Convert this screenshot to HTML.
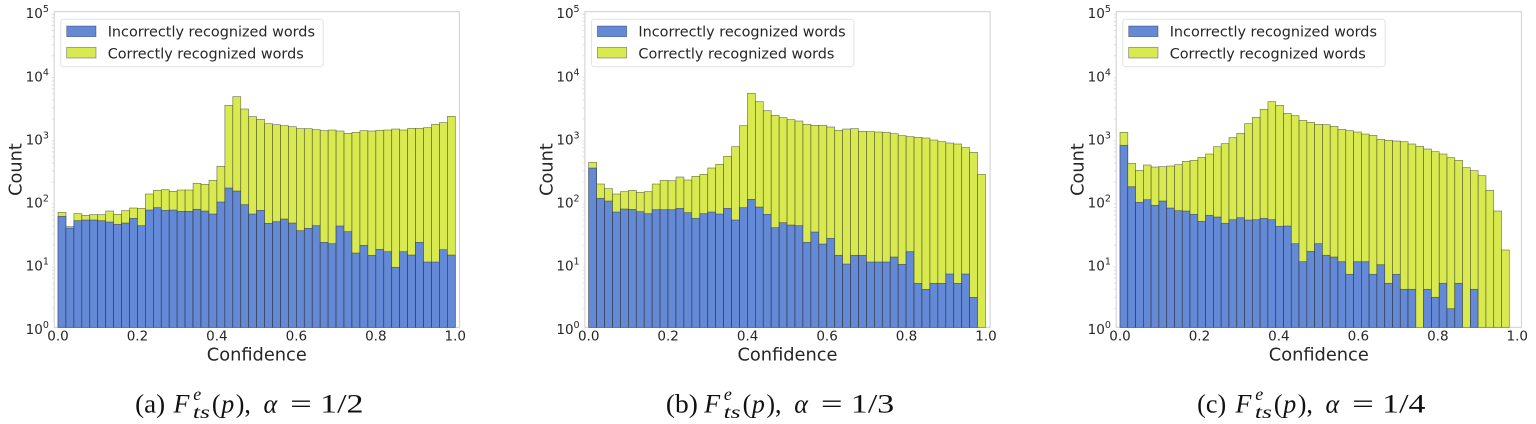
<!DOCTYPE html>
<html><head><meta charset="utf-8">
<style>
html,body{margin:0;padding:0;background:#fff;width:1536px;height:424px;overflow:hidden;}
svg{display:block;}
.t{font-family:"DejaVu Sans","Liberation Sans",sans-serif;fill:#262626;}
.c{font-family:"Liberation Serif","DejaVu Serif",serif;fill:#111;}
</style></head><body>
<svg id="s" width="1536" height="424" viewBox="0 0 1536 424" xmlns="http://www.w3.org/2000/svg"></svg>
<script>
const NS="http://www.w3.org/2000/svg";
const svg=document.getElementById('s');
function el(tag,attrs,text,parent){const e=document.createElementNS(NS,tag);for(const k in attrs)e.setAttribute(k,attrs[k]);if(text!=null)e.textContent=text;(parent||svg).appendChild(e);return e;}
const BASE=327.3, DEC=63.12, TOP=11.7, W=405.2, UNIT=397.3;
const BLUE="#6489d6", YEL="#d8ea50";
const z=v=>v==null?null:85+v/3;
const panels=[
 {x0:58, bw:7.946,
  yel:[382,425,386,391,389,389,378,388,377,369,370,327,316,314,319,315,315,295,298,286,244,61,35,72,95,103,116,119,122,125,131,131,134,137,135,138,145,142,137,138,136,135,132,135,130,130,128,118,113,94].map(z),
  blu:[394,429,407,405,405,407,411,418,414,400,422,375,368,376,375,379,379,373,378,387,351,309,318,359,387,376,415,410,402,414,437,430,422,472,476,423,440,504,481,511,493,500,547,500,510,472,531,531,494,510].map(z),
  cap:"a", frac:"1/2", capw:30},
 {x0:588.7, bw:7.936,
  yel:[232,297,311,327,320,316,322,320,297,286,287,276,285,274,268,249,238,214,185,122,25,50,77,91,98,104,108,118,121,121,126,136,132,131,139,140,141,142,146,152,155,157,159,165,170,174,177,188,202,268].map(z),
  blu:[249,340,348,381,372,373,380,386,374,374,374,370,383,400,386,381,387,370,405,368,343,366,388,428,413,420,422,472,441,477,460,511,537,511,511,531,531,531,516,538,500,595,613,595,595,567,595,567,637,null].map(z),
  cap:"b", frac:"1/3", capw:32},
 {x0:1120, bw:7.786,
  yel:[142,235,256,240,246,245,243,239,229,226,217,207,185,176,158,145,116,97,73,50,61,85,92,106,112,118,119,124,133,137,141,147,151,163,166,168,170,177,184,192,200,207,218,226,248,257,272,316,378,495].map(z),
  blu:[145.3,186.7,202.3,199.7,205.3,201,208,210.7,211,214.3,221.3,215.3,217,223.3,219.7,217.7,220,219.7,218.3,219.7,226.3,226,243.7,261.7,251.3,243.7,255.3,257,261.7,274.3,261.7,261.7,274.3,264.7,283.3,274.3,289.3,289.3,null,289.3,297.3,283.3,308.7,283.3,null,289.3,null,null,null,null],
  cap:"c", frac:"1/4", capw:29}
];
function caption(x, letter, frac, capw){
 const b=412.7;
 el('text',{x:x,y:b,class:'c','font-size':26,textLength:capw,lengthAdjust:'spacingAndGlyphs'},'('+letter+')');
 el('text',{x:x+38.3,y:b,class:'c','font-size':26,'font-style':'italic'},'F');
 el('text',{x:x+58,y:400,class:'c','font-size':18,'font-style':'italic'},'e');
 el('text',{x:x+57.7,y:418,class:'c','font-size':18,'font-style':'italic',textLength:17,lengthAdjust:'spacingAndGlyphs'},'ts');
 el('text',{x:x+76.7,y:b,class:'c','font-size':26},'(');
 el('text',{x:x+86,y:b,class:'c','font-size':26,'font-style':'italic'},'p');
 el('text',{x:x+100.5,y:b,class:'c','font-size':26},'),');
 el('text',{x:x+128.3,y:b,class:'c','font-size':26,'font-style':'italic'},'α');
 el('text',{x:x+155,y:b,class:'c','font-size':26,textLength:21.7,lengthAdjust:'spacingAndGlyphs'},'=');
 el('text',{x:x+185,y:b,class:'c','font-size':26,textLength:43.3,lengthAdjust:'spacingAndGlyphs'},frac);
}
panels.forEach(p=>{
 const L=p.x0-3.8;
 el('rect',{x:L,y:TOP,width:W,height:BASE-TOP,fill:'#fff',stroke:'#cfcfcf','stroke-width':1});
 for(let d=0;d<5;d++){for(let m=2;m<=9;m++){const y=BASE-DEC*(d+Math.log10(m));el('line',{x1:L-2.5,x2:L,y1:y,y2:y,stroke:'#d8d8d8','stroke-width':0.8});}}
 for(let i=0;i<50;i++){
  const x=p.x0+i*p.bw;
  const yy=p.yel[i];
  if(yy!=null) el('rect',{x:x,y:yy,width:p.bw,height:BASE-yy,fill:YEL,stroke:'rgba(30,30,30,0.55)','stroke-width':0.7});
  const yb=p.blu[i];
  if(yb!=null) el('rect',{x:x,y:yb,width:p.bw,height:BASE-yb,fill:BLUE,stroke:'rgba(30,30,30,0.55)','stroke-width':0.7});
 }
 el('rect',{x:L+6.5,y:19.3,width:262.5,height:47.4,rx:3,ry:3,fill:'rgba(255,255,255,0.85)',stroke:'#e2e2e2','stroke-width':1});
 el('rect',{x:L+12.5,y:26,width:29.3,height:10.7,fill:BLUE,stroke:'rgba(30,30,30,0.5)','stroke-width':0.7});
 el('rect',{x:L+12.5,y:47.3,width:29.3,height:10.7,fill:YEL,stroke:'rgba(30,30,30,0.5)','stroke-width':0.7});
 el('text',{x:L+53.5,y:36.7,class:'t','font-size':14.4},'Incorrectly recognized words');
 el('text',{x:L+53.5,y:58.3,class:'t','font-size':14.4},'Correctly recognized words');
 for(let d=0;d<=5;d++){
  const y=BASE-DEC*d;
  const t=el('text',{x:L-5.3,y:y+6.5,'text-anchor':'end',class:'t','font-size':13.5},'10');
  el('tspan',{dy:-6,'font-size':9.5},String(d),t);
 }
 for(let k=0;k<=5;k++){
  const v=k*0.2;
  el('text',{x:p.x0+v*UNIT,y:340.7,'text-anchor':'middle',class:'t','font-size':13.5},v.toFixed(1));
 }
 el('text',{x:L+W/2,y:360.7,'text-anchor':'middle',class:'t','font-size':17.8},'Confidence');
 el('text',{x:0,y:0,'text-anchor':'middle',class:'t','font-size':17.8,transform:'translate('+(L-32.5)+',169.5) rotate(-90)'},'Count');
 caption(L+81,p.cap,p.frac,p.capw);
});
</script>
</body></html>
